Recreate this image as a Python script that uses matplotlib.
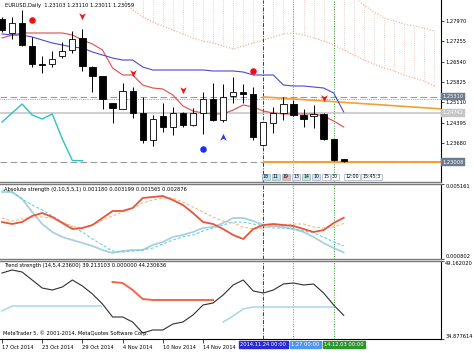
import matplotlib
matplotlib.use('Agg')
import matplotlib.pyplot as plt
from matplotlib.path import Path

plt.rcParams['font.family'] = ['DejaVu Sans']

# ---------------- data ----------------
date_tick_bars = [0, 4, 8, 12, 16, 20]
date_tick_labels = ["17 Oct 2014", "23 Oct 2014", "29 Oct 2014", "4 Nov 2014", "10 Nov 2014", "14 Nov 2014"]

opens = [1.28040, 1.27548, 1.27899, 1.27091, 1.26458, 1.26458, 1.26739, 1.26950, 1.27372, 1.26352,
         1.26036, 1.25087, 1.24876, 1.25508, 1.24735, 1.23786, 1.24629, 1.24243, 1.24735, 1.24313,
         1.24735, 1.25227, 1.24489, 1.25333, 1.25456, 1.25403, 1.23610, 1.24383, 1.24735, 1.25051,
         1.24664, 1.24629, 1.24700, 1.23821, 1.23103]
highs = [1.28110, 1.28110, 1.28356, 1.27407, 1.26739, 1.26915, 1.27231, 1.27618, 1.27688, 1.26387,
         1.26036, 1.25087, 1.25790, 1.25649, 1.25298, 1.24664, 1.25087, 1.24946, 1.24770, 1.24911,
         1.25473, 1.25790, 1.25755, 1.26001, 1.25755, 1.25649, 1.24418, 1.24946, 1.25298, 1.25192,
         1.24876, 1.25016, 1.24735, 1.23821, 1.23110]
lows = [1.27583, 1.27337, 1.27091, 1.26352, 1.26141, 1.26352, 1.26669, 1.26845, 1.26212, 1.25473,
        1.24876, 1.24383, 1.24876, 1.24559, 1.23680, 1.23575, 1.24067, 1.23962, 1.24243, 1.24278,
        1.23997, 1.24454, 1.24418, 1.25087, 1.25087, 1.23786, 1.23575, 1.24032, 1.24489, 1.24629,
        1.24243, 1.24208, 1.23786, 1.23030, 1.23011]
closes = [1.27653, 1.27899, 1.27126, 1.26458, 1.26440, 1.26634, 1.26915, 1.27337, 1.26387, 1.26036,
          1.25227, 1.24911, 1.25508, 1.24735, 1.23786, 1.24524, 1.24243, 1.24735, 1.24313, 1.24735,
          1.25227, 1.24489, 1.25298, 1.25473, 1.25403, 1.23891, 1.24418, 1.24735, 1.25051, 1.24664,
          1.24524, 1.24700, 1.23821, 1.23065, 1.23059]

tenkan = [1.27372, 1.27477, 1.27548, 1.27548, 1.27548, 1.27548, 1.27548, 1.27477, 1.27302, 1.27161,
          1.26950, 1.26317, 1.26071, 1.26071, 1.25719, 1.25614, 1.25579, 1.25368, 1.24981, 1.24805,
          1.24735, 1.24700, 1.24700, 1.24840, 1.25016, 1.24946, 1.24805, 1.24735, 1.24700, 1.24700,
          1.24700, 1.24700, 1.24629, 1.24454, 1.24243]
kijun = [1.27513, 1.27477, 1.27477, 1.27407, 1.27302, 1.27196, 1.27126, 1.27055, 1.27020, 1.26880,
         1.26774, 1.26669, 1.26598, 1.26598, 1.26352, 1.26247, 1.26247, 1.26247, 1.26247, 1.26247,
         1.26247, 1.26212, 1.26212, 1.26212, 1.26176, 1.26071, 1.26071, 1.26071, 1.25719, 1.25684,
         1.25684, 1.25649, 1.25614, 1.25438, 1.24770]

span_start_bar = 12
span_a = [1.28778, 1.28356, 1.28110, 1.27934, 1.27794, 1.27653, 1.27513, 1.27372, 1.27266, 1.27196,
          1.27091, 1.26985, 1.27091, 1.27196, 1.27302, 1.27407, 1.27513, 1.27548, 1.27477, 1.27372,
          1.27266, 1.27126, 1.26950, 1.26774, 1.26598, 1.26458, 1.26317, 1.26212, 1.26071, 1.25966,
          1.25860, 1.25684]
span_b = [1.3010, 1.3010, 1.3005, 1.3000, 1.2995, 1.2990, 1.2985, 1.2980, 1.2975, 1.2970,
          1.2965, 1.2960, 1.2955, 1.2950, 1.2945, 1.2940, 1.2935, 1.2930, 1.2925, 1.2920,
          1.2910, 1.2900, 1.2890, 1.28813, 1.28532, 1.28286, 1.28075, 1.27970, 1.27864, 1.27794,
          1.27724, 1.27618]
chikou_shift = 26

red_dot_bars, red_dot_prices = [3, 25], [1.28005, 1.26212]
red_arrow_bars, red_arrow_prices = [8, 13, 18, 32], [1.28145, 1.26141, 1.25544, 1.25262]
blue_arrow_bars, blue_arrow_prices = [22], [1.23891]
blue_dot_bars, blue_dot_prices = [20], [1.23469]

price_ticks = [1.27970, 1.27255, 1.26540, 1.25825, 1.25110, 1.24395, 1.23680]
level_prices = [1.25310, 1.24742, 1.23008]
level_colors = ['#6d7d90', '#c6c6c6', '#6d7d90']
bid_dotted_price = 1.25240
trend_line_bars = [26, 43.68]
trend_line_prices = [1.25300, 1.24880]
support_start_bar = 26

vline_bars = [26, 29, 33]
vline_colors = ['#2a2ad6', '#4f97ee', '#2f962f']
vline_styles = [(0, (4, 1.5, 1, 1.5)), (0, (1, 1.5)), (0, (1, 1.5))]
vline_visible_labels = ["2014.11.24 00:00", "1.27 00:00", "14.12.03 00:00"]

time_box_bars = [26, 27, 28, 29, 30, 31, 32, 32.9, 34.2, 35.9]
time_box_labels = ["18", "11", "19", "13", "14", "10", "15", "30", "12:00", "15:45:3"]
time_box_colors = ['#bfe0ee', '#bfe0ee', '#f0b4b4', '#e6ecf6', '#bfe8e0', '#d6e8f6', '#ffffff',
                   '#ffffff', '#ffffff', '#ffffff']

abs_fast = [0.002952, 0.002836, 0.002952, 0.003301, 0.003475, 0.003243, 0.002894, 0.002546, 0.002604, 0.002778,
            0.003185, 0.003592, 0.003592, 0.003766, 0.004347, 0.004405, 0.004463, 0.004231, 0.003940, 0.003475,
            0.002952, 0.002836, 0.002546, 0.002197, 0.001964, 0.002546, 0.002778, 0.002836, 0.002778, 0.002720,
            0.002546, 0.002371, 0.002487, 0.002894, 0.003199]
abs_slow = [0.004696, 0.004696, 0.004289, 0.003534, 0.002836, 0.002371, 0.002081, 0.001906, 0.001732, 0.001557,
            0.001325, 0.001151, 0.001267, 0.001325, 0.001325, 0.001616, 0.001790, 0.002081, 0.002197, 0.002371,
            0.002604, 0.002662, 0.002894, 0.003185, 0.003185, 0.003010, 0.002778, 0.002720, 0.002662, 0.002546,
            0.002371, 0.002081, 0.001732, 0.001441, 0.001180]
abs_slow_sig = [0.004812, 0.004696, 0.004289, 0.003940, 0.003650, 0.003301, 0.002952, 0.002662, 0.002371, 0.001964,
                0.001616, 0.001267, 0.001209, 0.001267, 0.001325, 0.001441, 0.001674, 0.001906, 0.002081, 0.002197,
                0.002429, 0.002604, 0.002778, 0.002952, 0.002952, 0.002836, 0.002720, 0.002604, 0.002604, 0.002546,
                0.002429, 0.002313, 0.002081, 0.001790, 0.001565]
abs_fast_sig = [0.003185, 0.003010, 0.003127, 0.003243, 0.003243, 0.003185, 0.002952, 0.002720, 0.002604, 0.002778,
                0.003069, 0.003301, 0.003534, 0.003766, 0.004057, 0.004231, 0.004347, 0.004347, 0.004115, 0.003824,
                0.003534, 0.003243, 0.003010, 0.002894, 0.002662, 0.002546, 0.002604, 0.002720, 0.002778, 0.002836,
                0.002836, 0.002662, 0.002604, 0.002662, 0.002876]
abs_range = [0.000802, 0.005161]

trend_main = [46.964, 47.514, 47.148, 45.683, 44.217, 43.851, 44.401, 45.683, 44.584, 43.119,
              41.287, 38.907, 38.907, 37.991, 35.977, 36.526, 36.526, 37.625, 37.991, 39.273,
              41.104, 41.470, 42.936, 44.767, 45.683, 43.668, 43.302, 43.851, 44.950, 45.133,
              44.767, 44.950, 43.302, 41.104, 39.213]
trend_blue1_bars = list(range(0, 11))
trend_blue1 = [40.006, 40.921, 40.921, 40.921, 40.921, 40.921, 40.921, 40.921, 40.921, 40.921, 40.921]
trend_blue2_bars = list(range(22, 34))
trend_blue2 = [37.991, 39.090, 40.372, 40.738, 40.738, 40.738, 40.738, 40.738, 40.738, 40.738, 40.738, 40.738]
trend_red_bars = list(range(11, 22))
trend_red = [45.316, 45.133, 43.851, 42.203, 42.020, 42.020, 42.020, 42.020, 42.020, 42.020, 42.020]
trend_range = [34.877614, 49.162020]

header_main = "EURUSD,Daily  1.23103 1.23110 1.23011 1.23059"
header_abs = "Absolute strength (0,10,5,5,1) 0.001180 0.003199 0.001565 0.002876"
header_trend = "Trend strength (14,5,4.23600) 39.213103 0.000000 44.230636"
copyright_text = "MetaTrader 5, \u00a9 2001-2014, MetaQuotes Software Corp."

# ---------------- layout ----------------
W, H = 474, 353
FS = 3.7
fig = plt.figure(figsize=(W / 100, H / 100), dpi=100)
fig.patch.set_facecolor('white')

def rect(x0, y0, x1, y1):
    return [x0 / W, 1 - y1 / H, (x1 - x0) / W, (y1 - y0) / H]

ax = fig.add_axes(rect(0, 0, 441, 182))
ax_abs = fig.add_axes(rect(0, 184, 441, 259))
ax_tr = fig.add_axes(rect(0, 261, 441, 339))

XL = (-0.2, 43.68)
for a in (ax, ax_abs, ax_tr):
    a.set_xlim(*XL)
    a.set_facecolor('white')
    a.yaxis.tick_right()
    a.tick_params(axis='y', labelsize=FS, length=2, width=0.5, pad=1, colors='black')
    a.spines['left'].set_visible(False)
    a.spines['right'].set_color('black')
    a.spines['right'].set_linewidth(0.8)
    for s in ('top', 'bottom'):
        a.spines[s].set_color('#7a7a7a')
        a.spines[s].set_linewidth(1.0)
ax.spines['top'].set_visible(False)
ax.set_xticks([])
ax_abs.set_xticks([])

# ---------------- main pane ----------------
ax.set_ylim(1.22309, 1.28708)
n = len(opens)
bars = list(range(n))

# cloud
sb = [span_start_bar + i for i in range(len(span_a))]
ax.vlines(sb, span_a, span_b, colors='#e2c0b8', linestyles=(0, (1, 1.6)), linewidth=0.6, zorder=1)
ax.plot(sb, span_a, color='#f0a882', linestyle=(0, (1, 1.6)), linewidth=0.8, zorder=1)
ax.plot(sb, span_b, color='#e0b0a0', linestyle=(0, (1, 1.6)), linewidth=0.8, zorder=1)

# horizontal levels
ax.axhline(level_prices[0], color='#9a9a9a', linestyle=(0, (6, 3)), linewidth=0.8, zorder=2)
ax.axhline(bid_dotted_price, color='#8090aa', linestyle=(0, (1, 1.2)), linewidth=0.6, zorder=2)
ax.axhline(level_prices[1], color='#cfcfcf', linewidth=1.4, zorder=2)
ax.axhline(level_prices[2], color='#9a9a9a', linestyle=(0, (6, 3)), linewidth=0.8, zorder=2)
ax.hlines(level_prices[2], support_start_bar, XL[1], color='#f5a030', linewidth=1.5, zorder=3)
ax.plot(trend_line_bars, trend_line_prices, color='#f5a030', linewidth=1.2, zorder=3)

# ichimoku lines
ax.plot(bars, tenkan, color='#e44a4a', linewidth=0.8, zorder=3)
ax.plot(bars, kijun, color='#4a4ad2', linewidth=0.8, zorder=3)
chikou_vals = closes[chikou_shift:]
ax.plot(list(range(len(chikou_vals))), chikou_vals, color='#2cc2c4', linewidth=1.0, zorder=3)

# candles
body_bottom = [min(o, c) for o, c in zip(opens, closes)]
body_h = [max(abs(c - o), 0.00004) for o, c in zip(opens, closes)]
colors = ['black' if c < o else 'white' for o, c in zip(opens, closes)]
ax.vlines(bars, lows, highs, color='black', linewidth=0.7, zorder=4)
ax.bar(bars, body_h, bottom=body_bottom, width=0.62, color=colors, edgecolor='black',
       linewidth=0.6, zorder=5)

# markers
down_arrow = Path([(0, -1), (-0.9, 0.9), (0, 0.35), (0.9, 0.9), (0, -1)],
                  [Path.MOVETO, Path.LINETO, Path.LINETO, Path.LINETO, Path.CLOSEPOLY])
up_arrow = Path([(0, 1), (-0.9, -0.9), (0, -0.35), (0.9, -0.9), (0, 1)],
                [Path.MOVETO, Path.LINETO, Path.LINETO, Path.LINETO, Path.CLOSEPOLY])
ax.scatter(red_dot_bars, red_dot_prices, s=22, color='#ee1111', zorder=6, linewidths=0)
ax.scatter(red_arrow_bars, red_arrow_prices, s=28, marker=down_arrow, color='#e81818', zorder=6, linewidths=0)
ax.scatter(blue_arrow_bars, blue_arrow_prices, s=28, marker=up_arrow, color='#2a3ee8', zorder=6, linewidths=0)
ax.scatter(blue_dot_bars, blue_dot_prices, s=22, color='#1a2ef0', zorder=6, linewidths=0)

ax.set_yticks(price_ticks)
ax.set_yticklabels([f"{p:.5f}" for p in price_ticks])
for p, c in zip(level_prices, level_colors):
    ax.text(1.004, p, f"{p:.5f}", transform=ax.get_yaxis_transform(), fontsize=FS, color='white',
            va='center', ha='left', zorder=10, clip_on=False,
            bbox=dict(boxstyle='square,pad=0.25', facecolor=c, edgecolor=c, linewidth=0.3))

ax.text(5 / 441, 1 - 6 / 182, header_main, transform=ax.transAxes, fontsize=FS, va='center', ha='left')

# time boxes at bottom of main pane
for b, lab, c in zip(time_box_bars, time_box_labels, time_box_colors):
    ax.text(b - 0.05, 0.0275, lab, transform=ax.get_xaxis_transform(), fontsize=FS - 0.3,
            ha='left', va='center', zorder=9,
            bbox=dict(boxstyle='square,pad=0.2', facecolor=c, edgecolor='#8aa0b0', linewidth=0.4))

# ---------------- absolute strength pane ----------------
ax_abs.set_ylim(*abs_range)
ax_abs.plot(bars, abs_slow, color='#aacfe2', linewidth=1.3, zorder=3)
ax_abs.plot(bars, abs_slow_sig, color='#52cfe0', linewidth=0.7, linestyle=(0, (3, 2)), zorder=3)
ax_abs.plot(bars, abs_fast_sig, color='#f6b274', linewidth=0.7, linestyle=(0, (3, 2)), zorder=3)
ax_abs.plot(bars, abs_fast, color='#e8553c', linewidth=1.3, zorder=4)
ax_abs.set_yticks(abs_range)
ax_abs.set_yticklabels([f"{v:.6f}" for v in abs_range])
tl = ax_abs.get_yticklabels()
tl[0].set_va('bottom')
tl[1].set_va('top')
ax_abs.text(4 / 441, 1 - 6 / 75, header_abs, transform=ax_abs.transAxes, fontsize=FS, va='center', ha='left')

# ---------------- trend strength pane ----------------
ax_tr.set_ylim(*trend_range)
ax_tr.plot(bars, trend_main, color='#303030', linewidth=0.8, zorder=3)
ax_tr.plot(trend_blue1_bars, trend_blue1, color='#a2d2ea', linewidth=1.0, zorder=3)
ax_tr.plot(trend_blue2_bars, trend_blue2, color='#a2d2ea', linewidth=1.0, zorder=3)
ax_tr.plot(trend_red_bars, trend_red, color='#f0664a', linewidth=1.4, zorder=4)
ax_tr.set_yticks(trend_range)
ax_tr.set_yticklabels([f"{v:.6f}" for v in trend_range])
tl = ax_tr.get_yticklabels()
tl[0].set_va('bottom')
tl[1].set_va('top')
ax_tr.text(4 / 441, 1 - 5 / 78, header_trend, transform=ax_tr.transAxes, fontsize=FS, va='center', ha='left')
ax_tr.text(3 / 441, 6 / 78, copyright_text, transform=ax_tr.transAxes, fontsize=FS, va='center', ha='left')
ax_tr.spines['bottom'].set_color('black')
ax_tr.spines['bottom'].set_linewidth(0.8)
ax_tr.set_xticks(date_tick_bars)
ax_tr.set_xticklabels(date_tick_labels)
ax_tr.tick_params(axis='x', labelsize=FS, length=3, width=0.5, pad=1)
for t in ax_tr.get_xticklabels():
    t.set_ha('left')

# vertical lines through panes
for a in (ax, ax_abs, ax_tr):
    for b, c, ls in zip(vline_bars, vline_colors, vline_styles):
        a.axvline(b, color=c, linestyle=ls, linewidth=0.7, zorder=2)

# vertical-line labels on the time axis: first one centred on its line,
# the following ones start where the previous box ends (as in the terminal)
fig.canvas.draw()
renderer = fig.canvas.get_renderer()
xpos = vline_bars[0]
ha = 'center'
for lab, c in zip(vline_visible_labels, vline_colors):
    t = ax_tr.text(xpos, -0.07, lab, transform=ax_tr.get_xaxis_transform(), fontsize=FS,
                   color='white', ha=ha, va='center', zorder=20, clip_on=False,
                   bbox=dict(boxstyle='square,pad=0.25', facecolor=c, edgecolor=c))
    fig.canvas.draw()
    ext = t.get_bbox_patch().get_window_extent(renderer)
    right_px = ext.x1 + 1.5
    xpos = ax_tr.transData.inverted().transform((right_px, 0))[0] + 0.2
    ha = 'left'

fig.savefig('out.png', dpi=100, facecolor='white')
